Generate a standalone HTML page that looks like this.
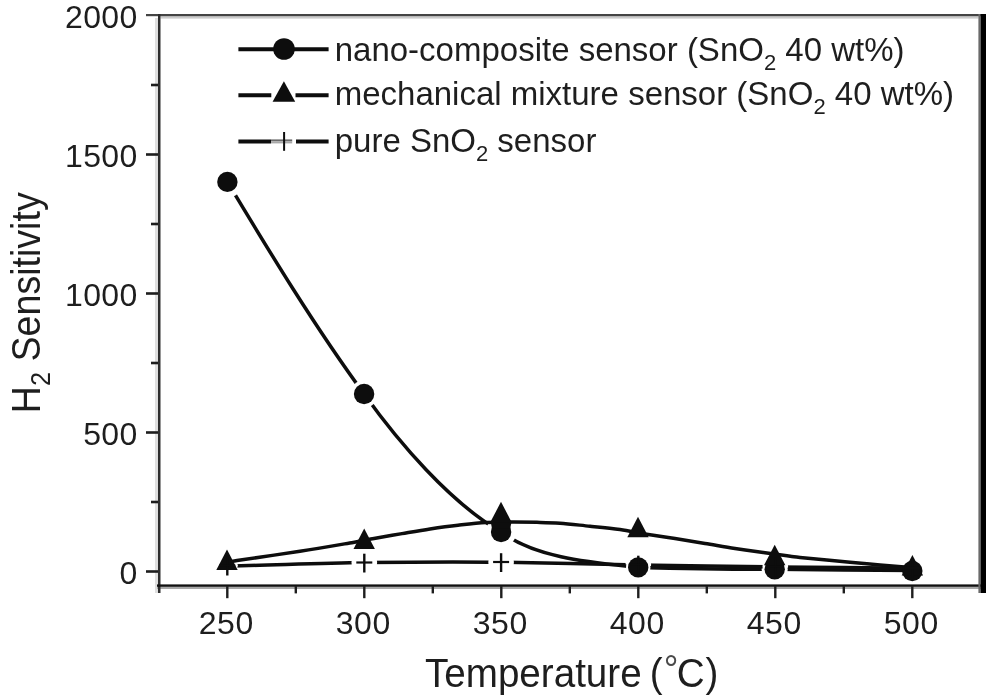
<!DOCTYPE html>
<html><head><meta charset="utf-8">
<style>
html,body{margin:0;padding:0;background:#fff;width:1000px;height:698px;overflow:hidden}
svg{display:block;filter:blur(0.4px)}
text{font-family:"Liberation Sans",Arial,sans-serif;fill:#1e1e1e}
</style></head><body>
<svg width="1000" height="698" viewBox="0 0 1000 698">
<defs>
<mask id="mN" maskUnits="userSpaceOnUse" x="0" y="0" width="1000" height="698"><rect width="1000" height="698" fill="#fff"/><circle cx="227.4" cy="181.9" r="15.8" fill="#000"/><circle cx="364.1" cy="394" r="13.8" fill="#000"/><circle cx="501.1" cy="532" r="15.2" fill="#000"/><circle cx="638.2" cy="567.4" r="12.2" fill="#000"/><circle cx="774.7" cy="569.3" r="13.0" fill="#000"/></mask>
<mask id="mP" maskUnits="userSpaceOnUse" x="0" y="0" width="1000" height="698"><rect width="1000" height="698" fill="#fff"/><circle cx="227.3" cy="565.5" r="10.5" fill="#000"/><circle cx="364.3" cy="562.5" r="12.8" fill="#000"/><circle cx="501.1" cy="562" r="12.8" fill="#000"/><circle cx="638.3" cy="564.5" r="12.8" fill="#000"/><circle cx="775.3" cy="566.5" r="12.8" fill="#000"/></mask>
</defs>
<rect width="1000" height="698" fill="#fff"/>
<rect x="160.5" y="16.2" width="818" height="2.4" fill="#cbcbcb"/>
<rect x="155" y="18" width="3" height="575" fill="#dfdfdf"/>
<rect x="157" y="586.8" width="829" height="2.2" fill="#a8a8a8"/>
<rect x="146" y="14" width="840" height="2.2" fill="#444"/>
<rect x="158" y="14" width="2.5" height="579" fill="#2e2e2e"/>
<rect x="157" y="584.4" width="829" height="2.4" fill="#111"/>
<rect x="978.4" y="14" width="2.2" height="579" fill="#6a6a6a"/>
<rect x="980.6" y="14" width="5.4" height="579" fill="#000"/>
<g fill="#1e1e1e">
<rect x="146" y="570.2" width="12" height="2.6"/>
<rect x="146" y="431.2" width="12" height="2.6"/>
<rect x="146" y="292.2" width="12" height="2.6"/>
<rect x="146" y="153.2" width="12" height="2.6"/>
<rect x="151" y="500.7" width="7" height="2.6"/>
<rect x="151" y="361.7" width="7" height="2.6"/>
<rect x="151" y="222.7" width="7" height="2.6"/>
<rect x="151" y="83.7" width="7" height="2.6"/>
<rect x="226.1" y="586" width="2.4" height="12.2"/>
<rect x="363.1" y="586" width="2.4" height="12.2"/>
<rect x="500.1" y="586" width="2.4" height="12.2"/>
<rect x="637.1" y="586" width="2.4" height="12.2"/>
<rect x="774.1" y="586" width="2.4" height="12.2"/>
<rect x="911.1" y="586" width="2.4" height="12.2"/>
<rect x="294.6" y="586" width="2.4" height="7.4"/>
<rect x="431.6" y="586" width="2.4" height="7.4"/>
<rect x="568.6" y="586" width="2.4" height="7.4"/>
<rect x="705.6" y="586" width="2.4" height="7.4"/>
<rect x="842.6" y="586" width="2.4" height="7.4"/>
</g>
<g font-size="32" text-anchor="end" letter-spacing="0.3">
<text x="137.5" y="27.5">2000</text>
<text x="137.5" y="166.5">1500</text>
<text x="137.5" y="305.5">1000</text>
<text x="137.5" y="444.5">500</text>
<text x="137.5" y="583.5">0</text>
</g>
<g font-size="32" text-anchor="middle" letter-spacing="0.6">
<text x="226.3" y="634">250</text>
<text x="363.3" y="634">300</text>
<text x="500.3" y="634">350</text>
<text x="637.3" y="634">400</text>
<text x="774.3" y="634">450</text>
<text x="911.3" y="634">500</text>
</g>
<text transform="translate(425,687) scale(0.965,1)" font-size="40">Temperature <tspan dx="-2.6">(</tspan><tspan x="247.5" dy="-4.9" font-size="38" style="fill:#4a4a4a">°</tspan><tspan x="261" dy="4.9">C</tspan><tspan dx="0.7">)</tspan></text>
<text transform="translate(40.4,413.2) rotate(-90) scale(0.94,1)" font-size="40">H<tspan font-size="27" dy="10">2</tspan><tspan dy="-10"> Sensitivity</tspan></text>
<g stroke="#0d0d0d" stroke-width="4">
<line x1="238.4" y1="49.2" x2="328.6" y2="49.2"/>
<line x1="238.4" y1="95.3" x2="271.3" y2="95.3"/><line x1="295.5" y1="95.3" x2="328.6" y2="95.3"/>
<line x1="238.4" y1="141.4" x2="271" y2="141.4"/><line x1="296" y1="141.4" x2="328.6" y2="141.4"/>
</g>
<circle cx="284" cy="49" r="10.8" fill="#0d0d0d"/>
<path d="M283.9,81.3 L295.2,101.8 L272.6,101.8 Z" fill="#0d0d0d"/>
<rect x="271" y="139.4" width="21.2" height="2" fill="#6a6a6a"/><rect x="271" y="141.4" width="21.2" height="2" fill="#a8a8a8"/>
<rect x="283.1" y="132" width="2" height="18.8" fill="#0d0d0d"/>
<g font-size="33">
<text x="334.7" y="60.5">nano-composite sensor (SnO<tspan font-size="22" dy="9">2</tspan><tspan dy="-9"> 40 wt%)</tspan></text>
<text x="334.7" y="105">mechanical mixture sensor (SnO<tspan font-size="22" dy="9">2</tspan><tspan dy="-9"> 40 wt%)</tspan></text>
<text x="334.7" y="152">pure SnO<tspan font-size="22" dy="9">2</tspan><tspan dy="-9"> sensor</tspan></text>
</g>
<g fill="none" stroke="#0d0d0d" stroke-width="3.5" stroke-linecap="butt">
<path mask="url(#mN)" d="M227.4,181.9 C270.2,253.0 315.1,327.1 364.1,394 C398.4,441.9 450.2,502.8 501.1,532 C537.3,559.0 595.0,562.8 638.2,567.4 C683.7,568.6 729.2,569.2 774.7,569.3 C820.6,569.7 866.4,570.2 912.3,570.5"/>
<path d="M227.0,563.2 C230.3,562.3 224.8,562.6 237.0,560.6 C249.2,558.6 280.6,554.3 300.0,551.3 C319.4,548.3 340.9,544.5 353.2,542.4 C365.5,540.3 365.9,540.0 374.0,538.5 C382.1,537.0 392.7,535.2 402.0,533.6 C411.3,532.0 420.7,530.3 430.0,528.9 C439.3,527.5 448.7,526.2 458.0,525.2 C467.3,524.2 476.7,523.1 486.0,522.6 C495.3,522.1 505.5,522.0 514.0,522.0 C522.5,522.0 529.3,522.1 537.0,522.3 C544.7,522.5 551.2,522.6 560.0,523.2 C568.8,523.9 580.0,525.2 590.0,526.2 C600.0,527.2 610.8,528.2 620.0,529.5 C629.2,530.8 635.8,532.4 645.0,533.9 C654.2,535.4 665.0,537.0 675.0,538.6 C685.0,540.2 695.0,541.9 705.0,543.5 C715.0,545.1 725.0,546.9 735.0,548.4 C745.0,549.9 756.3,551.6 765.0,552.8 C773.7,554.0 781.2,555.0 787.0,555.8 C792.8,556.6 789.5,556.3 800.0,557.4 C810.5,558.5 836.7,560.9 850.0,562.2 C863.3,563.5 869.6,564.1 880.0,565.0 C890.4,565.9 901.6,566.7 912.4,567.5"/>
<path mask="url(#mP)" d="M227.3,566.0 C273.0,565.1 318.6,563.0 364.3,562.5 C409.9,562.0 455.5,561.7 501.1,562.2 C546.8,562.7 592.6,564.4 638.3,565.0 C684.0,565.6 729.6,566.5 775.3,567.0 C821.0,567.5 866.6,567.7 912.3,568.2"/>
</g>
<g fill="#0d0d0d">
<circle cx="227.4" cy="181.9" r="10.2"/>
<circle cx="364.1" cy="394" r="10.2"/>
<circle cx="501.1" cy="532" r="10.2"/>
<circle cx="638.2" cy="567.4" r="10.2"/>
<circle cx="774.7" cy="569.3" r="10.2"/>
<circle cx="912.3" cy="571" r="10.2"/>
<path d="M490.6,521.5 L511.6,521.5 L510.2,528.5 L492,528.5 Z"/>
<path d="M227,549.5 L237.7,570.0 L216.3,570.0 Z"/>
<path d="M364.2,528.4 L374.9,548.9 L353.5,548.9 Z"/>
<path d="M501,501.8 L511.7,522.3 L490.3,522.3 Z"/>
<path d="M638,516.8 L648.7,537.3 L627.3,537.3 Z"/>
<path d="M774.7,544.8 L785.4,565.3 L764.0,565.3 Z"/>
<path d="M912.4,555 L923.1,575.5 L901.7,575.5 Z"/>
</g>
<g stroke="#0d0d0d" stroke-width="2.3">
<line x1="227.3" y1="556.7" x2="227.3" y2="575.5" stroke-width="2.4"/><line x1="219.3" y1="565.5" x2="235.3" y2="565.5" stroke-width="2.2"/>
<line x1="364.3" y1="553.7" x2="364.3" y2="572.5" stroke-width="2.4"/><line x1="356.3" y1="562.5" x2="372.3" y2="562.5" stroke-width="2.2"/>
<line x1="501.1" y1="553.2" x2="501.1" y2="572" stroke-width="2.4"/><line x1="493.1" y1="562" x2="509.1" y2="562" stroke-width="2.2"/>
<line x1="638.3" y1="555.7" x2="638.3" y2="574.5" stroke-width="2.4"/><line x1="630.3" y1="564.5" x2="646.3" y2="564.5" stroke-width="2.2"/>
<line x1="775.3" y1="557.7" x2="775.3" y2="576.5" stroke-width="2.4"/><line x1="767.3" y1="566.5" x2="783.3" y2="566.5" stroke-width="2.2"/>
<line x1="912.3" y1="559.2" x2="912.3" y2="578" stroke-width="2.4"/><line x1="904.3" y1="568" x2="920.3" y2="568" stroke-width="2.2"/>
</g>
</svg>
</body></html>
